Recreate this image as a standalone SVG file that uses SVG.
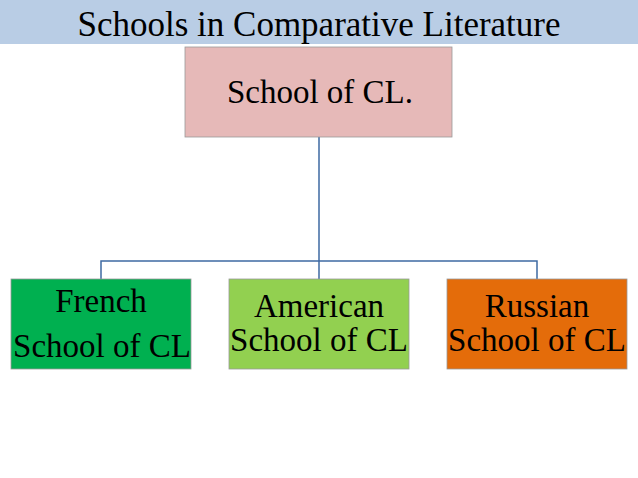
<svg xmlns="http://www.w3.org/2000/svg" width="638" height="478" viewBox="0 0 638 478">
<style>
.t{font-family:"Liberation Serif","Times New Roman",serif;fill:#000;text-anchor:middle}
.box{stroke:#9a9a9a;stroke-width:0.8}
.con{fill:none;stroke:#3e6aa3;stroke-width:1.5}
</style>
<rect width="638" height="478" fill="#ffffff"/>
<g id="header">
<rect x="0" y="0" width="638" height="44" fill="#b9cde5"/>
<text class="t" x="319" y="36" font-size="35">Schools in Comparative Literature</text>
</g>
<g id="connectors">
<path class="con" d="M319 137 V261 M101 279 V261 H537 V279 M319 261 V279"/>
</g>
<g id="root">
<rect class="box" x="185" y="47" width="267" height="90" fill="#e6b9b8"/>
<text class="t" x="320" y="103" font-size="33">School of CL.</text>
</g>
<g id="french">
<rect class="box" x="11" y="279" width="180" height="90" fill="#00b050"/>
<text class="t" x="101" y="312" font-size="33">French</text>
<text class="t" x="102" y="357" font-size="33">School of CL</text>
</g>
<g id="american">
<rect class="box" x="229" y="279" width="180" height="90" fill="#92d050"/>
<text class="t" x="319" y="317" font-size="33">American</text>
<text class="t" x="319" y="351" font-size="33">School of CL</text>
</g>
<g id="russian">
<rect class="box" x="447" y="279" width="180" height="90" fill="#e46c0a"/>
<text class="t" x="537" y="317" font-size="33">Russian</text>
<text class="t" x="537" y="351" font-size="33">School of CL</text>
</g>
</svg>
